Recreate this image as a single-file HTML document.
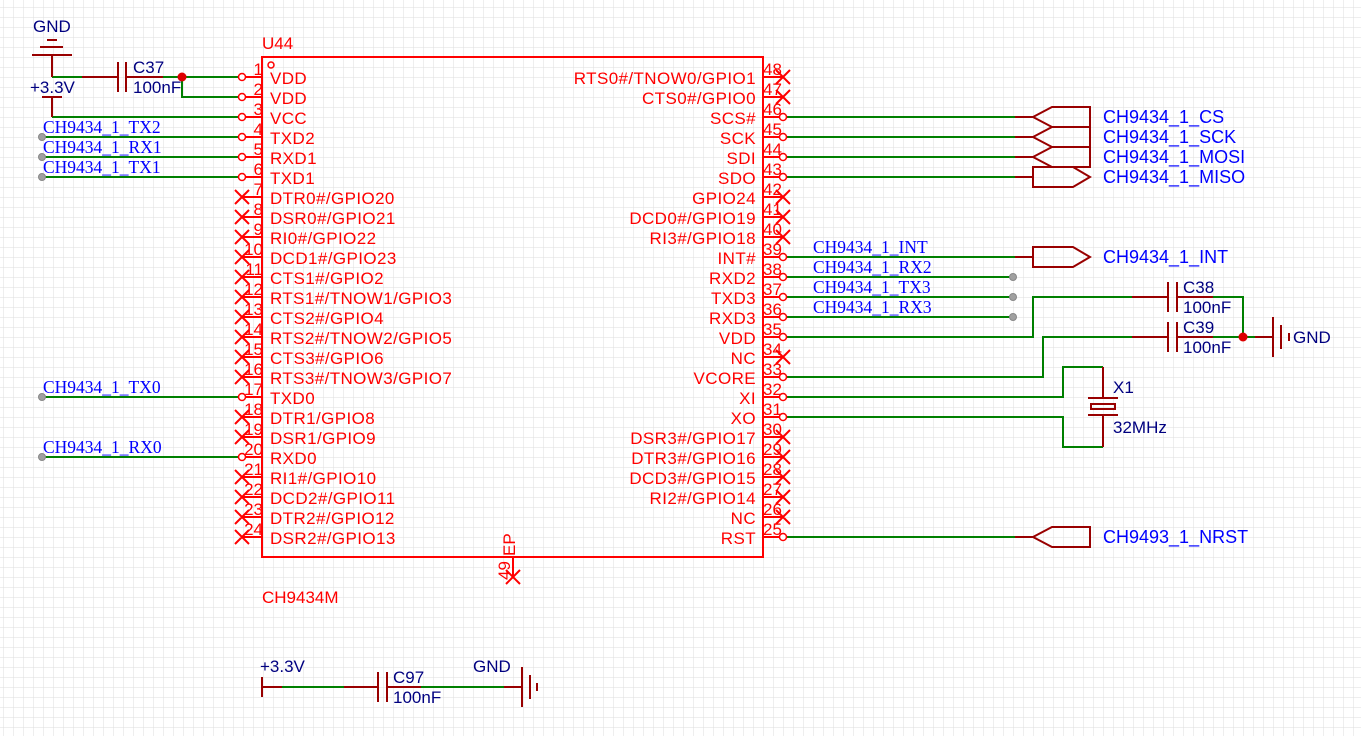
<!DOCTYPE html>
<html><head><meta charset="utf-8"><style>
html,body{margin:0;padding:0;background:#fff;}
svg{display:block;}
.pn{font-family:"Liberation Sans",sans-serif;font-size:17px;fill:#ff0000;}
.nm{font-family:"Liberation Sans",sans-serif;font-size:17px;letter-spacing:0.4px;fill:#ff0000;}
.nr{font-family:"Liberation Sans",sans-serif;font-size:17px;letter-spacing:0.4px;fill:#ff0000;text-anchor:end;}
.nv{font-family:"Liberation Sans",sans-serif;font-size:17px;fill:#000080;}
.wl{font-family:"Liberation Serif",serif;font-size:17.5px;fill:#0000ff;}
.pl{font-family:"Liberation Sans",sans-serif;font-size:18px;fill:#0000ff;}
</style></head><body>
<svg width="1361" height="736" viewBox="0 0 1361 736" xmlns="http://www.w3.org/2000/svg">
<defs><pattern id="g" x="3" y="7" width="10" height="10" patternUnits="userSpaceOnUse"><path d="M0 0H10M0 0V10" stroke="#dedede" stroke-width="1" fill="none"/></pattern></defs>
<rect width="1361" height="736" fill="#fff"/>
<rect width="1361" height="736" fill="url(#g)"/>

<rect x="262" y="57" width="501" height="500" fill="none" stroke="#ff0000" stroke-width="2"/>
<circle cx="271" cy="65" r="3" fill="none" stroke="#ff0000" stroke-width="1.5"/>
<text x="262" y="49" class="pn">U44</text>
<text x="262" y="603" class="pn">CH9434M</text>

<g stroke="#ff0000" stroke-width="2">
<path d="M242 77H262M242 97H262M242 117H262M242 137H262M242 157H262M242 177H262M242 197H262M242 217H262M242 237H262M242 257H262M242 277H262M242 297H262M242 317H262M242 337H262M242 357H262M242 377H262M242 397H262M242 417H262M242 437H262M242 457H262M242 477H262M242 497H262M242 517H262M242 537H262"/>
<path d="M763 77H783M763 97H783M763 117H783M763 137H783M763 157H783M763 177H783M763 197H783M763 217H783M763 237H783M763 257H783M763 277H783M763 297H783M763 317H783M763 337H783M763 357H783M763 377H783M763 397H783M763 417H783M763 437H783M763 457H783M763 477H783M763 497H783M763 517H783M763 537H783"/>
<path d="M513 557V577"/>
</g>
<g stroke="#ff0000" stroke-width="2">
<path d="M235 190l14 14M249 190l-14 14M235 210l14 14M249 210l-14 14M235 230l14 14M249 230l-14 14M235 250l14 14M249 250l-14 14M235 270l14 14M249 270l-14 14M235 290l14 14M249 290l-14 14M235 310l14 14M249 310l-14 14M235 330l14 14M249 330l-14 14M235 350l14 14M249 350l-14 14M235 370l14 14M249 370l-14 14M235 410l14 14M249 410l-14 14M235 430l14 14M249 430l-14 14M235 470l14 14M249 470l-14 14M235 490l14 14M249 490l-14 14M235 510l14 14M249 510l-14 14M235 530l14 14M249 530l-14 14"/>
<path d="M776 70l14 14M790 70l-14 14M776 90l14 14M790 90l-14 14M776 190l14 14M790 190l-14 14M776 210l14 14M790 210l-14 14M776 230l14 14M790 230l-14 14M776 350l14 14M790 350l-14 14M776 430l14 14M790 430l-14 14M776 450l14 14M790 450l-14 14M776 470l14 14M790 470l-14 14M776 490l14 14M790 490l-14 14M776 510l14 14M790 510l-14 14"/>
<path d="M506 570l14 14M520 570l-14 14"/>
</g>

<g stroke="#008000" stroke-width="2" fill="none">
<path d="M52 77H82M163 77H242M182 77V97H242M52 117H242"/>
<path d="M42 137H242M42 157H242M42 177H242M42 397H242M42 457H242"/>
<path d="M783 117H1015M783 137H1015M783 157H1015M783 177H1015M783 257H1015M783 537H1015"/>
<path d="M783 277H1013M783 297H1013M783 317H1013"/>
<path d="M783 337H1033V297H1132M1213 297H1243V337H1255"/>
<path d="M783 377H1043V337H1132M1213 337H1243"/>
<path d="M783 397H1063V367H1103M783 417H1063V447H1103"/>
<path d="M282 687H344M421 687H504"/>
</g>
<g fill="#fff" stroke="#ff0000" stroke-width="1.5">
<circle cx="242" cy="77" r="3.5"/><circle cx="242" cy="97" r="3.5"/><circle cx="242" cy="117" r="3.5"/><circle cx="242" cy="137" r="3.5"/><circle cx="242" cy="157" r="3.5"/><circle cx="242" cy="177" r="3.5"/><circle cx="242" cy="397" r="3.5"/><circle cx="242" cy="457" r="3.5"/>
<circle cx="783" cy="117" r="3.5"/><circle cx="783" cy="137" r="3.5"/><circle cx="783" cy="157" r="3.5"/><circle cx="783" cy="177" r="3.5"/><circle cx="783" cy="257" r="3.5"/><circle cx="783" cy="277" r="3.5"/><circle cx="783" cy="297" r="3.5"/><circle cx="783" cy="317" r="3.5"/><circle cx="783" cy="337" r="3.5"/><circle cx="783" cy="377" r="3.5"/><circle cx="783" cy="397" r="3.5"/><circle cx="783" cy="417" r="3.5"/><circle cx="783" cy="537" r="3.5"/>
</g>
<g fill="#a0a0a0" stroke="#888" stroke-width="1">
<circle cx="42" cy="137" r="3.5"/><circle cx="42" cy="157" r="3.5"/><circle cx="42" cy="177" r="3.5"/><circle cx="42" cy="397" r="3.5"/><circle cx="42" cy="457" r="3.5"/>
<circle cx="1013" cy="277" r="3.5"/><circle cx="1013" cy="297" r="3.5"/><circle cx="1013" cy="317" r="3.5"/>
</g>

<g stroke="#990000" stroke-width="2" fill="none">
<path d="M47 40H57M40 47H63M32 55H72M52 55V77"/>
<path d="M82 77H118M118 62V92M126 62V92M126 77H163"/>
<path d="M42 97H62M52 97V117"/>
<path d="M1015 117H1033M1015 137H1033M1015 157H1033M1015 177H1033M1015 257H1033M1015 537H1033"/>
<path d="M1033 117L1052 107H1090V167H1052M1033 117L1052 127H1090M1033 137L1052 127M1033 137L1052 147H1090M1033 157L1052 147M1033 157L1052 167"/>
<path d="M1033 167H1073L1090 177L1073 187H1033Z"/>
<path d="M1033 247H1073L1090 257L1073 267H1033Z"/>
<path d="M1033 537L1052 527H1090V547H1052Z"/>
<path d="M1132 297H1168M1168 282V312M1177 282V312M1177 297H1213"/>
<path d="M1132 337H1168M1168 322V352M1177 322V352M1177 337H1213"/>
<path d="M1255 337H1273M1273 317V357M1281 325V349M1289 333V341"/>
<path d="M1103 367V398M1088 398H1118M1088 415H1118M1103 415V447"/>
<rect x="1091" y="404" width="24" height="5"/>
<path d="M262 677V697M262 687H282M344 687H378M378 672V702M387 672V702M387 687H421M504 687H522M522 667V707M530 675V699M537 683V691"/>
</g>
<circle cx="182" cy="77" r="4.5" fill="#dd0000"/>
<circle cx="1243" cy="337" r="4.5" fill="#dd0000"/>

<text x="33" y="32" class="nv">GND</text>
<text x="30" y="93" class="nv">+3.3V</text>
<text x="133" y="73" class="nv">C37</text>
<text x="133" y="93" class="nv">100nF</text>
<text x="1183" y="293" class="nv">C38</text>
<text x="1183" y="313" class="nv">100nF</text>
<text x="1183" y="333" class="nv">C39</text>
<text x="1183" y="353" class="nv">100nF</text>
<text x="1293" y="343" class="nv">GND</text>
<text x="1113" y="393" class="nv">X1</text>
<text x="1113" y="433" class="nv">32MHz</text>
<text x="260" y="672" class="nv">+3.3V</text>
<text x="393" y="683" class="nv">C97</text>
<text x="393" y="703" class="nv">100nF</text>
<text x="473" y="672" class="nv">GND</text>

<text x="43" y="133" class="wl">CH9434_1_TX2</text>
<text x="43" y="153" class="wl">CH9434_1_RX1</text>
<text x="43" y="173" class="wl">CH9434_1_TX1</text>
<text x="43" y="393" class="wl">CH9434_1_TX0</text>
<text x="43" y="453" class="wl">CH9434_1_RX0</text>
<text x="813" y="253" class="wl">CH9434_1_INT</text>
<text x="813" y="273" class="wl">CH9434_1_RX2</text>
<text x="813" y="293" class="wl">CH9434_1_TX3</text>
<text x="813" y="313" class="wl">CH9434_1_RX3</text>
<text x="1103" y="123" class="pl">CH9434_1_CS</text>
<text x="1103" y="143" class="pl">CH9434_1_SCK</text>
<text x="1103" y="163" class="pl">CH9434_1_MOSI</text>
<text x="1103" y="183" class="pl">CH9434_1_MISO</text>
<text x="1103" y="263" class="pl">CH9434_1_INT</text>
<text x="1103" y="543" class="pl">CH9493_1_NRST</text>

<g class="pn" text-anchor="end">
<text x="263" y="75">1</text><text x="263" y="95">2</text><text x="263" y="115">3</text><text x="263" y="135">4</text><text x="263" y="155">5</text><text x="263" y="175">6</text><text x="263" y="195">7</text><text x="263" y="215">8</text><text x="263" y="235">9</text><text x="263" y="255">10</text><text x="263" y="275">11</text><text x="263" y="295">12</text><text x="263" y="315">13</text><text x="263" y="335">14</text><text x="263" y="355">15</text><text x="263" y="375">16</text><text x="263" y="395">17</text><text x="263" y="415">18</text><text x="263" y="435">19</text><text x="263" y="455">20</text><text x="263" y="475">21</text><text x="263" y="495">22</text><text x="263" y="515">23</text><text x="263" y="535">24</text>
</g>
<g class="pn">
<text x="763" y="75">48</text><text x="763" y="95">47</text><text x="763" y="115">46</text><text x="763" y="135">45</text><text x="763" y="155">44</text><text x="763" y="175">43</text><text x="763" y="195">42</text><text x="763" y="215">41</text><text x="763" y="235">40</text><text x="763" y="255">39</text><text x="763" y="275">38</text><text x="763" y="295">37</text><text x="763" y="315">36</text><text x="763" y="335">35</text><text x="763" y="355">34</text><text x="763" y="375">33</text><text x="763" y="395">32</text><text x="763" y="415">31</text><text x="763" y="435">30</text><text x="763" y="455">29</text><text x="763" y="475">28</text><text x="763" y="495">27</text><text x="763" y="515">26</text><text x="763" y="535">25</text>
</g>
<text class="pn" transform="translate(515,556) rotate(-90)">EP</text>
<text class="pn" transform="translate(510,580) rotate(-90)">49</text>

<g class="nm">
<text x="270" y="84">VDD</text><text x="270" y="104">VDD</text><text x="270" y="124">VCC</text><text x="270" y="144">TXD2</text><text x="270" y="164">RXD1</text><text x="270" y="184">TXD1</text><text x="270" y="204">DTR0#/GPIO20</text><text x="270" y="224">DSR0#/GPIO21</text><text x="270" y="244">RI0#/GPIO22</text><text x="270" y="264">DCD1#/GPIO23</text><text x="270" y="284">CTS1#/GPIO2</text><text x="270" y="304">RTS1#/TNOW1/GPIO3</text><text x="270" y="324">CTS2#/GPIO4</text><text x="270" y="344">RTS2#/TNOW2/GPIO5</text><text x="270" y="364">CTS3#/GPIO6</text><text x="270" y="384">RTS3#/TNOW3/GPIO7</text><text x="270" y="404">TXD0</text><text x="270" y="424">DTR1/GPIO8</text><text x="270" y="444">DSR1/GPIO9</text><text x="270" y="464">RXD0</text><text x="270" y="484">RI1#/GPIO10</text><text x="270" y="504">DCD2#/GPIO11</text><text x="270" y="524">DTR2#/GPIO12</text><text x="270" y="544">DSR2#/GPIO13</text>
</g>
<g class="nr">
<text x="756" y="84">RTS0#/TNOW0/GPIO1</text><text x="756" y="104">CTS0#/GPIO0</text><text x="756" y="124">SCS#</text><text x="756" y="144">SCK</text><text x="756" y="164">SDI</text><text x="756" y="184">SDO</text><text x="756" y="204">GPIO24</text><text x="756" y="224">DCD0#/GPIO19</text><text x="756" y="244">RI3#/GPIO18</text><text x="756" y="264">INT#</text><text x="756" y="284">RXD2</text><text x="756" y="304">TXD3</text><text x="756" y="324">RXD3</text><text x="756" y="344">VDD</text><text x="756" y="364">NC</text><text x="756" y="384">VCORE</text><text x="756" y="404">XI</text><text x="756" y="424">XO</text><text x="756" y="444">DSR3#/GPIO17</text><text x="756" y="464">DTR3#/GPIO16</text><text x="756" y="484">DCD3#/GPIO15</text><text x="756" y="504">RI2#/GPIO14</text><text x="756" y="524">NC</text><text x="756" y="544">RST</text>
</g>
</svg>
</body></html>
